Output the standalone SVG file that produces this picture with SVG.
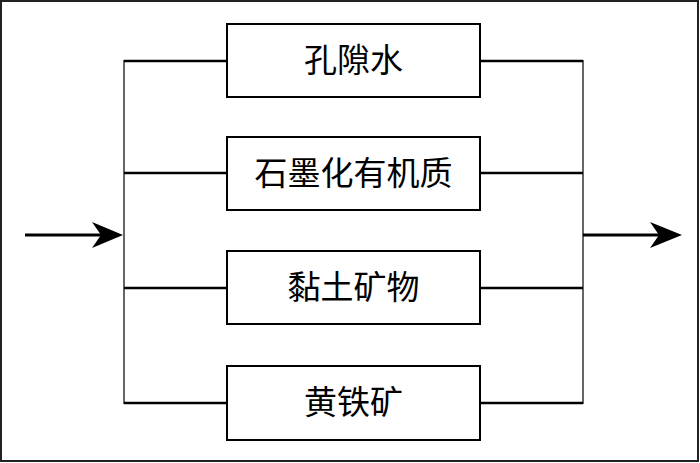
<svg xmlns="http://www.w3.org/2000/svg" width="700" height="463" viewBox="0 0 700 463">
<style>
.box{fill:#fff;stroke:#000;stroke-width:2}
.h{stroke:#000;stroke-width:2.5;fill:none}
.v{stroke:#333;stroke-width:1.5;fill:none}
.a{stroke:#000;stroke-width:3;fill:none}
.head{fill:#000}
text{font-family:"Noto Sans CJK SC","Noto Sans",sans-serif;font-size:33px;fill:#000;text-anchor:middle}
</style>
<rect x="1" y="1" width="697" height="460" fill="#fff" stroke="#222" stroke-width="2"/>
<g id="connectors">
<line class="v" x1="124" y1="60" x2="124" y2="404"/>
<line class="v" x1="583" y1="60" x2="583" y2="404"/>
<line class="h" x1="124" y1="61" x2="227" y2="61"/>
<line class="h" x1="124" y1="173" x2="227" y2="173"/>
<line class="h" x1="124" y1="288" x2="227" y2="288"/>
<line class="h" x1="124" y1="403" x2="227" y2="403"/>
<line class="h" x1="480" y1="61" x2="583" y2="61"/>
<line class="h" x1="480" y1="173" x2="583" y2="173"/>
<line class="h" x1="480" y1="288" x2="583" y2="288"/>
<line class="h" x1="480" y1="403" x2="583" y2="403"/>
<line class="a" x1="25" y1="235" x2="102" y2="235"/>
<path class="head" d="M123,235 L92,222 L101,235 L92,248 Z"/>
<line class="a" x1="583" y1="235" x2="660" y2="235"/>
<path class="head" d="M682,235 L650,222 L659,235 L650,248 Z"/>
</g>
<g id="node1"><rect class="box" x="227" y="24" width="253" height="73"/><text x="353.5" y="72">孔隙水</text></g>
<g id="node2"><rect class="box" x="227" y="137" width="253" height="73"/><text x="353.5" y="185">石墨化有机质</text></g>
<g id="node3"><rect class="box" x="227" y="251" width="253" height="73"/><text x="353.5" y="299">黏土矿物</text></g>
<g id="node4"><rect class="box" x="227" y="366" width="253" height="74"/><text x="353.5" y="414">黄铁矿</text></g>
</svg>
